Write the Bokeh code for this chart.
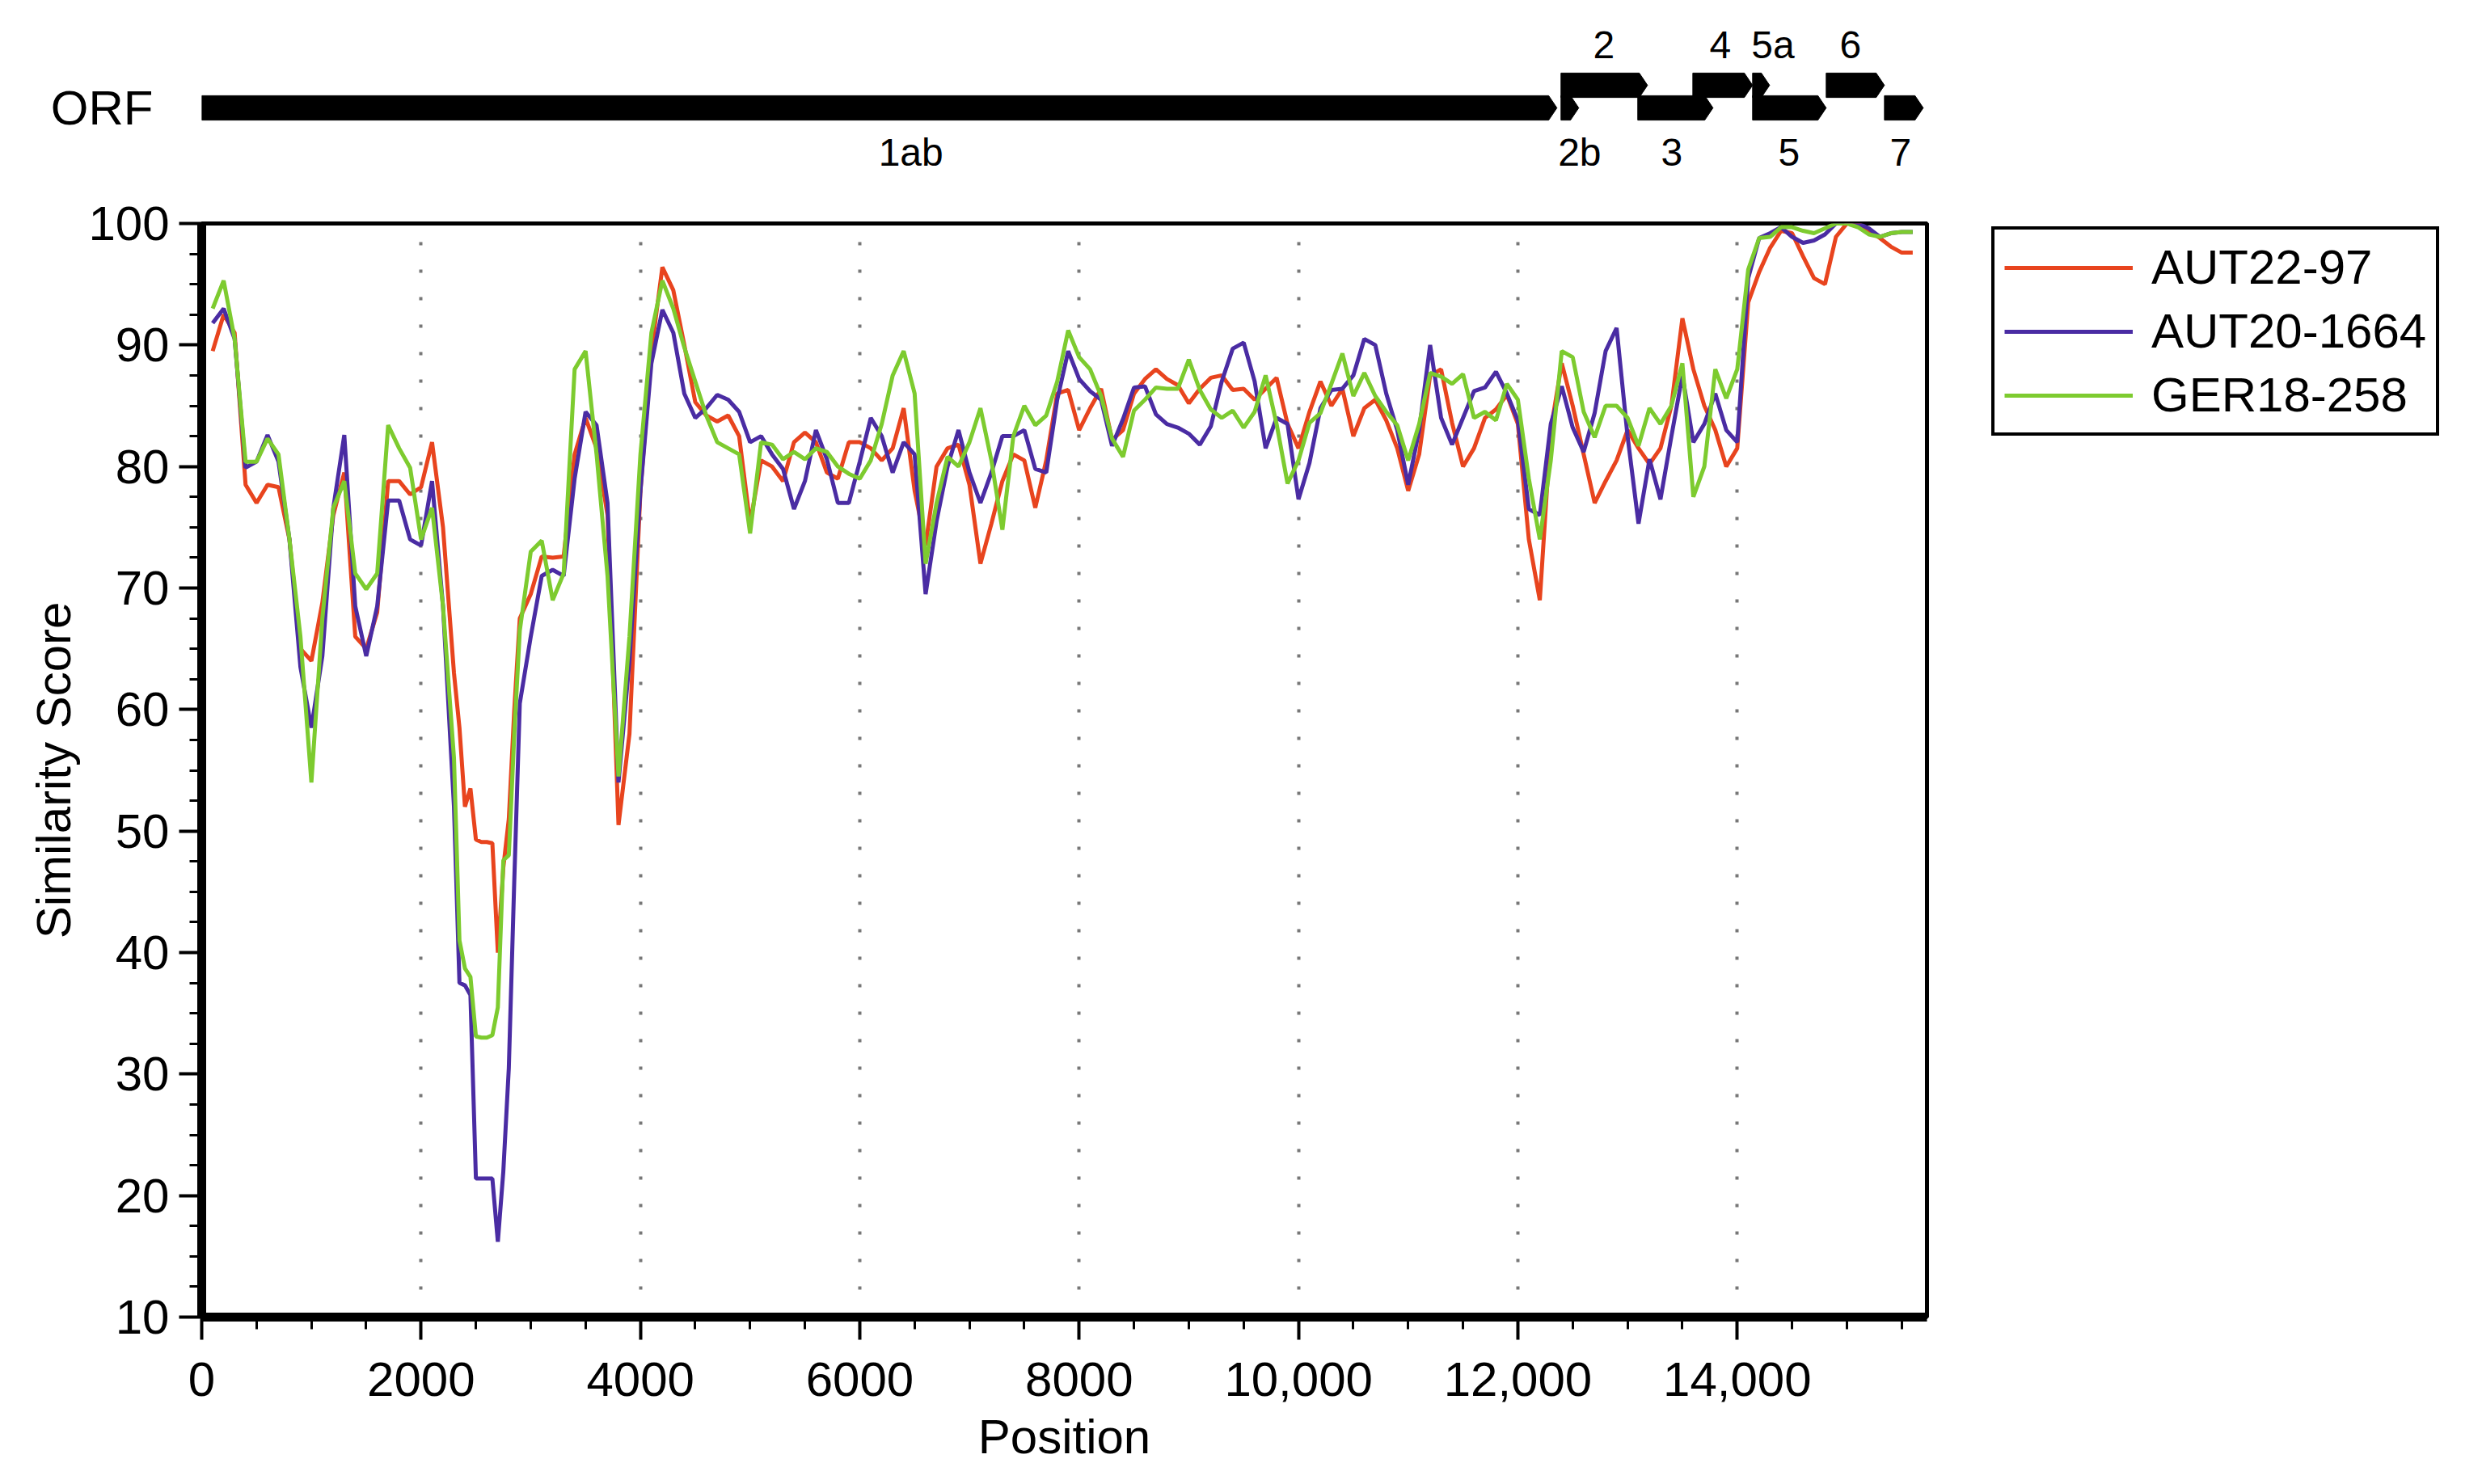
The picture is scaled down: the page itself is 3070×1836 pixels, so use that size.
from bokeh.plotting import figure
from bokeh.models import Range1d, FixedTicker, Legend, LegendItem
from bokeh.layouts import column, row
from bokeh.embed import file_html
from bokeh.resources import INLINE
from bokeh.core.properties import value

FONT = "Liberation Sans"

# ---------------- data ----------------
positions = list(range(100, 2300, 100)) + list(range(2300, 2900, 50)) + list(range(2900, 15700, 100))

aut22_97 = [
    89.5, 92.5, 91, 78.5, 77, 78.5, 78.3, 74, 65, 64, 68.8, 76, 79.5, 66, 65, 68, 78.8, 78.8, 77.7, 78.3, 82, 75,
    63, 58.5, 52, 53.5, 49.3, 49.1, 49.1, 49, 40, 47, 51, 60,
    67.5, 69.5, 72.6, 72.5, 72.6, 81, 84, 81.5, 76, 50.5,
    58, 78, 89.5, 96.4, 94.5, 90, 85.3, 84.2, 83.7, 84.2,
    82.5, 75.3, 80.5, 80, 78.8, 82, 82.8, 82, 79.5, 79,
    82, 82, 81.5, 80.5, 81.5, 84.8, 78, 73.5, 80, 81.5,
    81.8, 78.5, 72, 75.3, 78.8, 81, 80.5, 76.6, 80.5, 86,
    86.3, 83, 84.8, 86.4, 82.2, 83, 86, 87.2, 88, 87.2,
    86.7, 85.2, 86.4, 87.3, 87.5, 86.3, 86.4, 85.5, 86.4, 87.3,
    83.5, 81.5, 84.5, 87, 85, 86.4, 82.5, 84.8, 85.5, 83.8,
    81.5, 78, 81, 87.5, 88, 83.6, 80, 81.5, 84, 84.7,
    85.9, 83.5, 74, 69, 83, 88.5, 85, 81, 77, 78.8,
    80.5, 83, 81.5, 80.2, 81.5, 85, 92.2, 88, 85, 83,
    80, 81.5, 93.5, 96, 98, 99.4, 99.2, 97.3, 95.5, 95,
    98.9, 100, 100, 99.4, 98.8, 98.1, 97.6, 97.6,
]

aut20_1664 = [
    91.8, 93, 90.5, 79.9, 80.4, 82.6, 80.4, 74, 63.5, 58.5, 64.4, 76.6, 82.6, 68.5, 64.4, 68.5, 77.2, 77.2, 74, 73.5, 78.8, 68.5,
    52, 37.5, 37.3, 36.5, 21.4, 21.4, 21.4, 21.4, 16.2, 22, 30.5, 46,
    60.5, 66, 71, 71.5, 71, 79, 84.5, 83.4, 77, 54,
    64, 78, 88.5, 92.9, 91, 86, 84, 84.8, 85.9, 85.5,
    84.5, 82, 82.5, 81, 79.8, 76.5, 78.8, 83, 80.6, 77,
    77, 80.4, 84, 82.5, 79.5, 82, 81, 69.5, 75.5, 80,
    83, 79.5, 77, 79.5, 82.5, 82.5, 83, 79.8, 79.5, 85.5,
    89.5, 87.2, 86.2, 85.5, 81.7, 83.9, 86.5, 86.6, 84.3, 83.5,
    83.2, 82.7, 81.8, 83.3, 87, 89.7, 90.2, 87, 81.5, 84,
    83.5, 77.3, 80.3, 84.8, 86.3, 86.4, 87.5, 90.5, 90, 86,
    83, 78.5, 83, 90, 84, 81.8, 84, 86.2, 86.5, 87.8,
    86, 83.8, 76.5, 76, 83.5, 86.6, 83.2, 81.2, 84.4, 89.5,
    91.4, 82.5, 75.3, 80.6, 77.3, 82.5, 87.5, 82, 83.5, 86,
    83, 82, 95.5, 98.8, 99.2, 99.7, 98.9, 98.4, 98.6, 99.1,
    100, 100, 100, 99.6, 98.9, 99.2, 99.3, 99.3,
]

ger18_258 = [
    93, 95.3, 90.5, 80.4, 80.4, 82.3, 81, 74, 66, 54, 67.5, 76.6, 78.8, 71.2, 69.9, 71.2, 83.4, 81.5, 79.9, 74, 76.6, 68.5,
    56, 41, 38.7, 38, 33.1, 33, 33, 33.2, 35.5, 47.6, 48, 58,
    66.5, 73, 73.9, 69, 71.2, 88, 89.5, 81, 71, 54.5,
    66, 81, 91, 95.3, 93, 89.8, 87, 84.2, 82, 81.5,
    81, 74.5, 82, 81.8, 80.6, 81.2, 80.6, 81.5, 81.2, 80,
    79.4, 79, 80.5, 83.5, 87.5, 89.5, 86, 72, 77, 80.8,
    80, 82, 84.8, 80.5, 74.8, 82.5, 85, 83.4, 84.2, 87,
    91.2, 89, 88, 85.8, 82.3, 80.8, 84.6, 85.5, 86.5, 86.4,
    86.4, 88.8, 86.3, 84.7, 84, 84.6, 83.2, 84.5, 87.5, 83.5,
    78.6, 80.5, 83.6, 84.4, 86.8, 89.3, 85.8, 87.7, 85.8, 84.5,
    83.4, 80.5, 83.5, 87.7, 87.4, 86.8, 87.6, 84, 84.5, 83.8,
    86.8, 85.5, 79, 74, 80.5, 89.5, 89, 84.5, 82.4, 85,
    85, 84, 81.7, 84.8, 83.5, 85, 88.5, 77.5, 80, 88,
    85.6, 88, 96.2, 98.8, 98.9, 99.7, 99.7, 99.4, 99.2, 99.6,
    100, 100, 99.7, 99.1, 98.9, 99.2, 99.3, 99.3,
]

series_names = ["AUT22-97", "AUT20-1664", "GER18-258"]
series_colors = ["#E8441E", "#4A2CA3", "#7DCB2F"]

x_ticks = [0, 2000, 4000, 6000, 8000, 10000, 12000, 14000]
x_tick_labels = ["0", "2000", "4000", "6000", "8000", "10,000", "12,000", "14,000"]
x_minor = [v for v in range(500, 15730, 500) if v % 2000 != 0]
y_ticks = [10, 20, 30, 40, 50, 60, 70, 80, 90, 100]
y_minor = [t + k * 2.5 for t in y_ticks[:-1] for k in (1, 2, 3)]

# ORF map
orf_names = ["1ab", "2b", "2", "3", "4", "5a", "5", "6", "7"]
orf_start = [0, 12393, 12393, 13093, 13595, 14140, 14140, 14811, 15342]
orf_end = [12356, 12555, 13182, 13779, 14140, 14295, 14811, 15342, 15696]
orf_row = [0, 0, 1, 0, 1, 1, 0, 1, 0]
orf_label_x = [6466, 12563, 12784, 13403, 13845, 14325, 14472, 15032, 15489]

all_series = [aut22_97, aut20_1664, ger18_258]
assert all(len(s) == len(positions) for s in all_series)

# ---------------- figures ----------------
x_rng = Range1d(0, 15730)
W = 3062
BL = 249
MAIN_W = 2433
MAIN_H = 1595
LW = 5

orf = figure(width=W, height=238, x_range=x_rng, y_range=Range1d(-3.75, 4.75),
             output_backend="svg", toolbar_location=None,
             min_border_left=BL, min_border_right=W - 2383, min_border_top=0, min_border_bottom=0)
orf.xaxis.visible = False
orf.grid.visible = False
orf.outline_line_color = None
orf.yaxis.ticker = FixedTicker(ticks=[0])
orf.yaxis.major_label_overrides = {0: "ORF"}
orf.yaxis.axis_line_color = None
orf.yaxis.major_tick_line_color = None
orf.yaxis.minor_tick_line_color = None
orf.yaxis.major_label_standoff = 54
orf.yaxis.major_label_text_font = FONT
orf.yaxis.major_label_text_font_size = "60px"
orf.yaxis.major_label_text_color = "black"

half = 0.54
tip = 75
xs, ys = [], []
for s, e, r in zip(orf_start, orf_end, orf_row):
    xs.append([s, e - tip, e, e - tip, s])
    ys.append([r - half, r - half, r, r + half, r + half])
orf.patches(xs, ys, fill_color="black", line_color="black", line_width=1)
label_y = [r + 1.79 if r == 1 else r - 1.95 for r in orf_row]
orf.text(x=orf_label_x, y=label_y, text=orf_names, text_align="center", text_baseline="middle",
         text_font=value(FONT), text_font_size="48px", text_color="black")

p = figure(width=MAIN_W, height=MAIN_H, x_range=x_rng, y_range=Range1d(10, 100),
           output_backend="svg", toolbar_location=None,
           min_border_left=BL, min_border_right=MAIN_W - 2383, min_border_top=38,
           min_border_bottom=MAIN_H - 38 - 1353)
p.background_fill_color = "white"
p.outline_line_color = "black"
p.outline_line_width = 5

for ys_, c in zip(all_series, series_colors):
    p.line(positions, ys_, line_color=c, line_width=LW)

p.xaxis.ticker = FixedTicker(ticks=x_ticks, minor_ticks=x_minor)
p.xaxis.major_label_overrides = {t: l for t, l in zip(x_ticks, x_tick_labels)}
p.yaxis.ticker = FixedTicker(ticks=y_ticks, minor_ticks=y_minor)
p.xaxis.axis_label = "Position"
p.yaxis.axis_label = "Similarity Score"
for ax in (p.xaxis, p.yaxis):
    ax.axis_line_width = 11
    ax.axis_line_color = "black"
    ax.major_tick_line_width = 4
    ax.major_tick_out = 28
    ax.major_tick_in = 0
    ax.minor_tick_line_width = 3
    ax.minor_tick_out = 15
    ax.minor_tick_in = 0
    ax.major_label_text_font = FONT
    ax.major_label_text_font_size = "60px"
    ax.major_label_text_color = "black"
    ax.axis_label_text_font = FONT
    ax.axis_label_text_font_size = "60px"
    ax.axis_label_text_font_style = "normal"
    ax.axis_label_text_color = "black"
p.yaxis.major_label_standoff = 12
p.yaxis.axis_label_standoff = 6
p.xaxis.major_label_standoff = 28
p.xaxis.axis_label_standoff = 14

p.ygrid.visible = False
p.xgrid.ticker = FixedTicker(ticks=x_ticks[1:])
p.xgrid.grid_line_color = "#777777"
p.xgrid.grid_line_width = 4
p.xgrid.grid_line_dash = "4 30"

# legend lives in its own panel to the right of the plot; the same series are
# drawn there but fall outside that panel's (unit) ranges, so only the legend shows
leg = figure(width=W - MAIN_W, height=MAIN_H, x_range=Range1d(0, 1), y_range=Range1d(0, 1),
             output_backend="svg", toolbar_location=None,
             min_border_left=0, min_border_right=0, min_border_top=0, min_border_bottom=0)
leg.axis.visible = False
leg.grid.visible = False
leg.outline_line_color = None
leg_renderers = [leg.line(positions, ys_, line_color=c, line_width=LW)
                 for ys_, c in zip(all_series, series_colors)]
legend = Legend(items=[LegendItem(label=n, renderers=[r]) for n, r in zip(series_names, leg_renderers)],
                location=(30, 1090))
legend.border_line_color = "black"
legend.border_line_width = 4
legend.border_line_alpha = 1.0
legend.background_fill_color = "white"
legend.label_text_font = FONT
legend.label_text_font_size = "60px"
legend.label_text_color = "black"
legend.glyph_width = 159
legend.glyph_height = 40
legend.label_height = 60
legend.label_standoff = 23
legend.padding = 12
legend.spacing = 10
legend.margin = 0
leg.add_layout(legend, "center")

layout = column(orf, row(p, leg))
open("out.html", "w").write(file_html(layout, INLINE))
